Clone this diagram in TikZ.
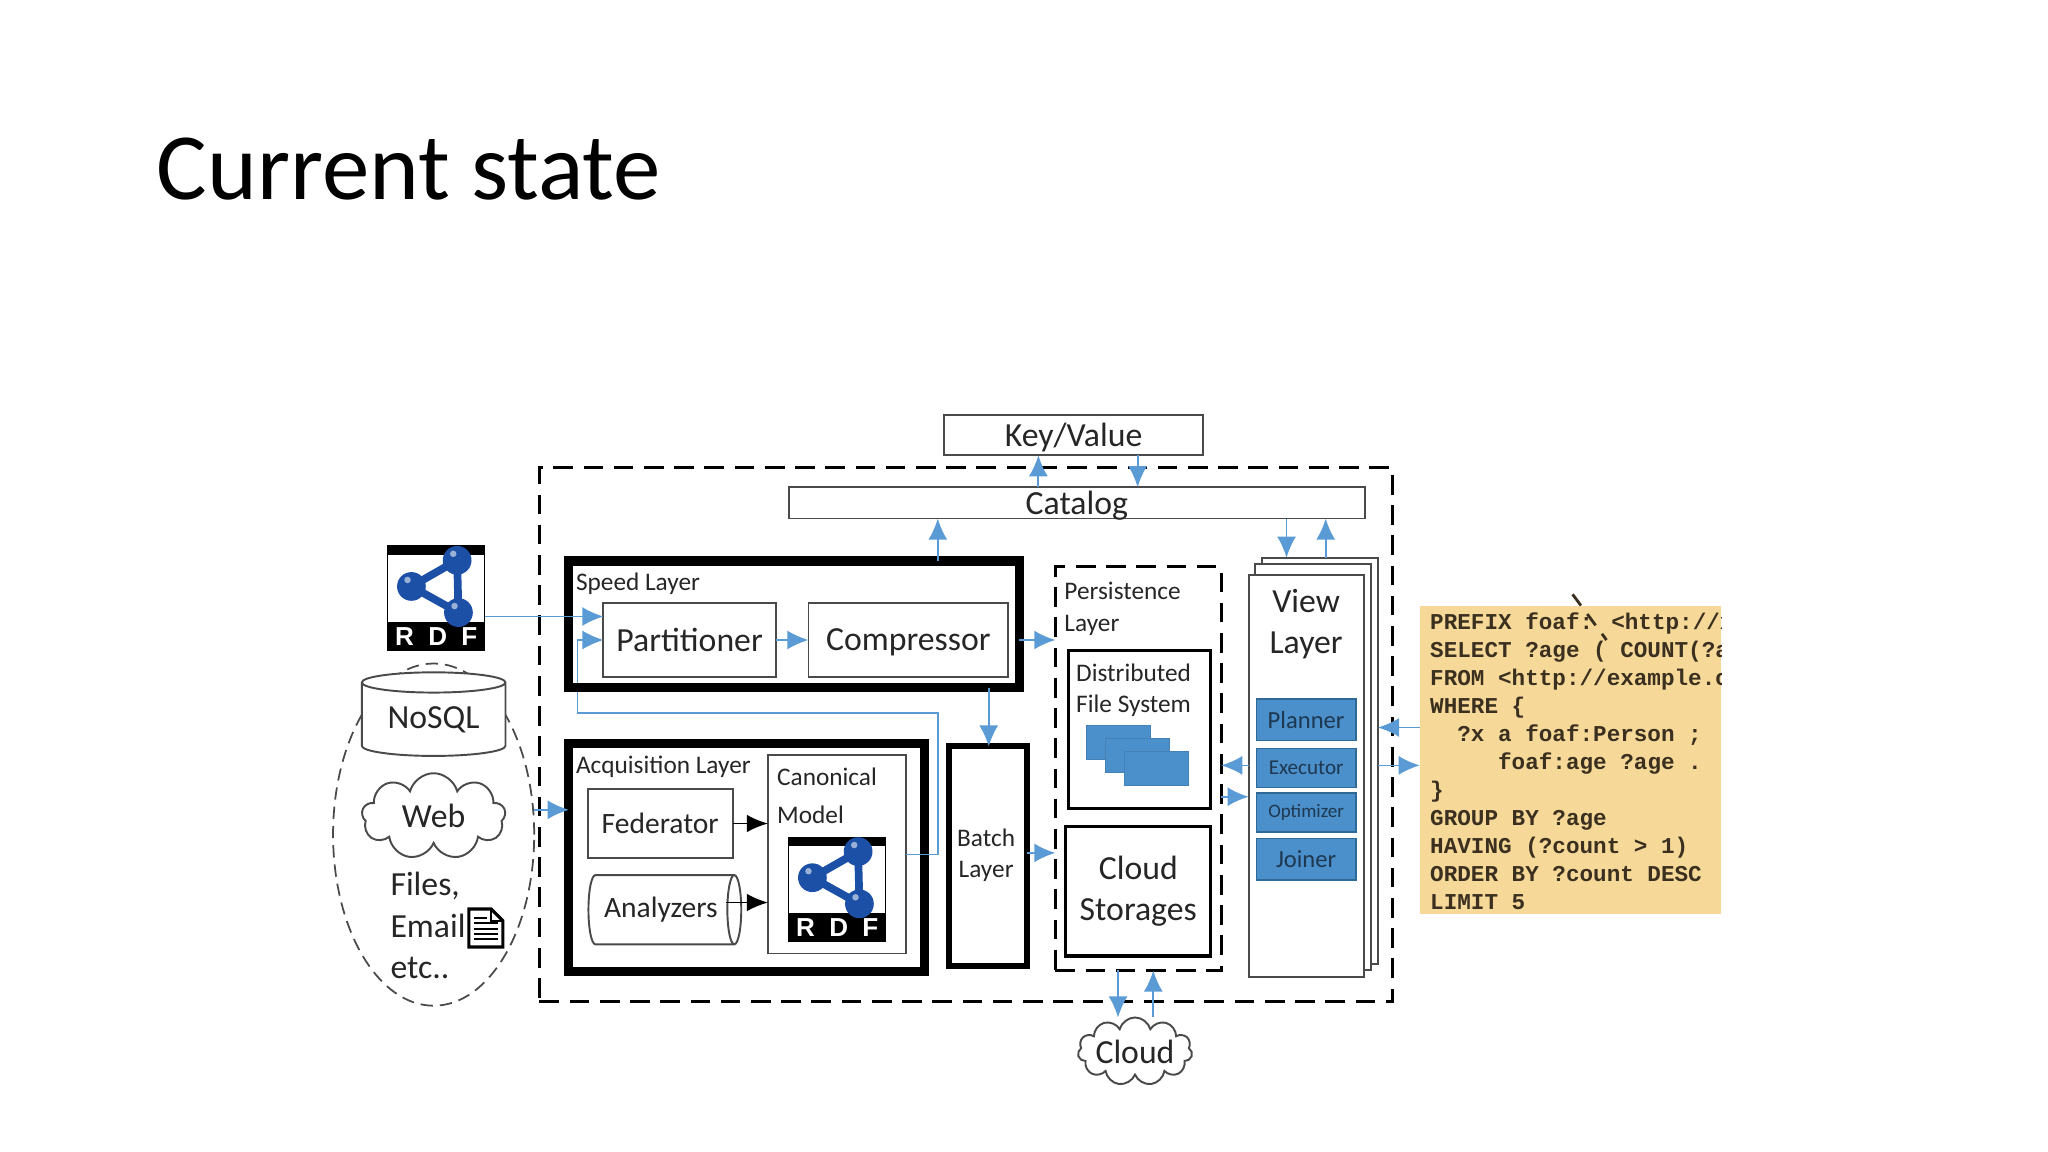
\documentclass[tikz,border=0pt]{standalone}
\usepackage{fontspec}
\setmainfont{Carlito}
\newfontfamily\codefont{Liberation Mono}
\newfontfamily\logofont{Liberation Sans}
\usetikzlibrary{arrows.meta,shapes.geometric,shapes.symbols}

\def\px{0.013061cm}
\definecolor{inkgrey}{HTML}{262626}
\definecolor{boxgrey}{HTML}{4A4A4A}
\definecolor{flowblue}{HTML}{5B9BD5}
\definecolor{planblue}{HTML}{4B8FCB}
\definecolor{planedge}{HTML}{2F6A97}
\definecolor{plantext}{HTML}{1D3850}
\definecolor{rdfline}{HTML}{1C4FA6}
\definecolor{queryyellow}{HTML}{F6D998}
\definecolor{querytext}{HTML}{3B3020}

\tikzset{
    sized/.style 2 args={minimum width=#1*\px, minimum height=#2*\px},
    every node/.style={inner sep=0, outer sep=0, text=inkgrey},
    huge text/.style={font=\fontsize{9.6}{11.8}\selectfont, align=center},
    mid text/.style={font=\fontsize{8.4}{10}\selectfont, align=center},
    small text/.style={font=\fontsize{7.2}{8.9}\selectfont, align=left},
    box/.style={draw=boxgrey, line width=0.55pt, fill=white},
    strong box/.style={draw=black, line width=0.95pt, fill=white},
    layer/.style={draw=black, line width=2.6pt},
    dashed layer/.style={draw=black, line width=0.9pt, dash pattern=on 5.6pt off 3pt},
    plan box/.style={draw=planedge, line width=0.5pt, fill=planblue, text=plantext},
    stack box/.style={fill=planblue, draw=planblue!90!black, line width=0.2pt},
    flow/.style={draw=flowblue, line width=0.5pt, -{Latex[length=6pt,width=5.4pt]}},
    push/.style={draw=black, line width=0.5pt, -{Latex[length=6pt,width=5pt]}},
    rdflogo/.pic={
        \node[draw=black, line width=0.3pt, fill=white, sized={74}{80}] (-box) at (37,40) {};
        \fill[black] (0,0) rectangle (74,7);
        \fill[black] (0,58) rectangle (74,80);
        \draw[rdfline, line width=2.2pt, line join=round] (53,11) -- (18,31) -- (54,51) -- cycle;
        \fill[rdfline] (53,11) circle (11) (18,31) circle (11) (54,51) circle (11);
        \fill[white!55!rdfline] (50,6) circle (2.5) (15,26) circle (2.5) (51,46) circle (2.5);
        \node[text=white, font=\logofont\bfseries\fontsize{7.4}{8}\selectfont] (-letters) at (37,69.5) {R\hspace{0.55em}D\hspace{0.55em}F};
    }
}

\begin{document}
\begin{tikzpicture}[x=\px,y=-\px]
    \useasboundingbox (0,0) rectangle (1568,882);

    %Title
    \node[anchor=base west, text=black, font=\fontsize{27}{30}\selectfont] (title) at (120,153) {Current state};

    %Outer frame
    \node[dashed layer, sized={653}{409}] (system) at (739.5,562.5) {};
    \node[box, huge text, text depth=0pt, sized={198}{31}] (keyvalue) at (822,333) {Key/Value};
    \node[box, huge text, text depth=0pt, sized={441}{24}] (catalog) at (824.5,385) {Catalog};

    %Sources
    \pic (rdftop) at (297,418) {rdflogo};
    \node[ellipse, draw=boxgrey, line width=0.5pt, dash pattern=on 3.5pt off 2pt, sized={154}{262}] (sources) at (332,639) {};
    \node[cylinder, shape border rotate=90, aspect=0.22, box, huge text, sized={110}{64}] (nosql) at (332,551) {NoSQL};
    \node[cloud, cloud puffs=9, cloud ignores aspect, box, huge text, sized={110}{66}] (web) at (332,625) {Web};
    \node[huge text, align=left, anchor=north west] (files) at (299,668) {Files,\\Email\\etc..};
    \draw[black, line width=0.9pt, fill=white] (359,696) -- (376,696) -- (385,705) -- (385,725) -- (359,725) -- cycle;
    \draw[black, line width=0.6pt] (376,696) -- (376,705) -- (385,705);
    \draw[black, line width=0.6pt] (363,703) -- (373,703) (363,707) -- (381,707) (363,711) -- (381,711) (363,715) -- (381,715) (363,719) -- (381,719);

    %Acquisition
    \node[layer, sized={272}{174}] (acquisition) at (571.5,656.5) {};
    \node[small text, anchor=west] (acqlabel) at (441,587) {Acquisition Layer};
    \node[box, mid text, sized={111}{53}] (federator) at (505.5,630.5) {Federator};
    \node[cylinder, aspect=0.55, box, mid text, sized={53}{117}] (analyzers) at (506,696.5) {Analyzers};
    \node[box, sized={106}{152}] (canonical) at (641,654) {};
    \node[small text, anchor=west] (canonlabel) at (595,595) {Canonical};
    \node[small text, anchor=west] (modellabel) at (595,624) {Model};
    \pic (rdfin) at (604,641) {rdflogo};
    \draw[push] (federator.east) -- (canonical.west |- federator.east);
    \draw[push] (556,691) -- (canonical.west |- 0,691);

    %Speed
    \node[box, huge text, sized={132}{56}] (partitioner) at (528,490) {Partitioner};
    \node[box, huge text, text depth=0pt, sized={153}{56}] (compressor) at (695.5,490) {Compressor};
    \draw[flow, line width=0.4pt] (canonical.east |- 0,654) -| (718,546) -| (442,490) -- (partitioner.west);
    \node[layer, sized={345}{97}] (speed) at (608,478) {};
    \node[small text, anchor=west] (speedlabel) at (441,447) {Speed Layer};
    \draw[flow] (partitioner) -- (compressor);

    %Batch
    \node[draw=black, line width=1.7pt, fill=white, sized={60}{168}] (batch) at (756.5,655.5) {};
    \node[small text, align=center] (batchlabel) at (755,655) {Batch\\Layer};

    %Persistence
    \node[dashed layer, sized={127}{309}] (persistence) at (871.5,588.5) {};
    \node[small text, anchor=north west] (perslabel) at (815,446) {Persistence\\Layer};
    \node[strong box, sized={109}{121}] (dfs) at (872.5,558.5) {};
    \node[small text, anchor=north west] (dfslabel) at (824,508) {Distributed\\File System};
    \node[stack box, sized={49}{26}] (sheeta) at (856,568) {};
    \node[stack box, sized={49}{26}] (sheetb) at (871,578) {};
    \node[stack box, sized={49}{26}] (sheetc) at (885.5,588) {};
    \node[strong box, huge text, sized={111}{99}] (cloudstore) at (871.5,682.5) {Cloud\\Storages};

    %View
    \node[box, sized={89}{311}] (viewback) at (1010.5,582.5) {};
    \node[box, sized={89}{311}] (viewmid) at (1005,587.5) {};
    \node[box, sized={88}{308}] (view) at (1000,594) {};
    \node[huge text] (viewlabel) at (1000,478) {View\\Layer};
    \node[plan box, font=\fontsize{7}{8}\selectfont, sized={76}{32}] (planner) at (1000,551) {Planner};
    \node[plan box, font=\fontsize{6}{7}\selectfont, sized={76}{30}] (executor) at (1000,588) {Executor};
    \node[plan box, font=\fontsize{5.4}{7}\selectfont, sized={76}{30}] (optimizer) at (1000,622) {Optimizer};
    \node[plan box, font=\fontsize{7}{8}\selectfont, sized={76}{32}] (joiner) at (1000,658) {Joiner};

    %Query
    \node[fill=queryyellow, sized={231}{236}] (query) at (1202.5,582) {};
    \begin{scope}
        \clip (query.north west) rectangle (query.south east);
        \node[text=querytext, anchor=north west, align=left, font=\codefont\bfseries\fontsize{6.44}{7.94}\selectfont] (querytext) at (1095,469.5) {%
            PREFIX foaf: <http://xmlns\\
            SELECT ?age ( COUNT(?age\\
            FROM <http://example.org\\
            WHERE \{\\
            \ \ ?x a foaf:Person ;\\
            \ \ \ \ \ foaf:age ?age .\\
            \}\\
            GROUP BY ?age\\
            HAVING (?count > 1)\\
            ORDER BY ?count DESC\\
            LIMIT 5};
    \end{scope}
    \draw[querytext, line width=0.8pt, dash pattern=on 4pt off 3pt] (1204,455) -- (1230,490);

    %Cloud
    \node[cloud, cloud puffs=11, cloud ignores aspect, box, huge text, sized={87}{52}] (cloud) at (869,805) {Cloud};

    %Arrows
    \draw[flow] (sources.east |- 0,620) -- (acquisition.west |- 0,620);
    \draw[flow] (rdftop-box.east |- 0,472) -- (partitioner.west |- 0,472);
    \draw[flow] (speed.north -| 718,0) -- (catalog.south -| 718,0);
    \draw[flow] (catalog.north -| 795,0) -- (keyvalue.south -| 795,0);
    \draw[flow] (keyvalue.south -| 871,0) -- (catalog.north -| 871,0);
    \draw[flow] (catalog.south -| 985,0) -- (viewback.north -| 985,0);
    \draw[flow] (viewback.north -| 1015,0) -- (catalog.south -| 1015,0);
    \draw[flow] (speed.east |- 0,490) -- (persistence.west |- 0,490);
    \draw[flow] (speed.south -| 757,0) -- (batch.north -| 757,0);
    \draw[flow] (batch.east |- 0,653) -- (persistence.west |- 0,653);
    \draw[flow] (view.west |- 0,586) -- (persistence.east |- 0,586);
    \draw[flow] (persistence.east |- 0,610) -- (view.west |- 0,610);
    \draw[flow] (query.west |- 0,557) -- (viewback.east |- 0,557);
    \draw[flow] (viewback.east |- 0,586) -- (query.west |- 0,586);
    \draw[flow] (persistence.south -| 856,0) -- (cloud.north -| 856,0);
    \draw[flow] (cloud.north -| 883,0) -- (persistence.south -| 883,0);
\end{tikzpicture}
\end{document}
